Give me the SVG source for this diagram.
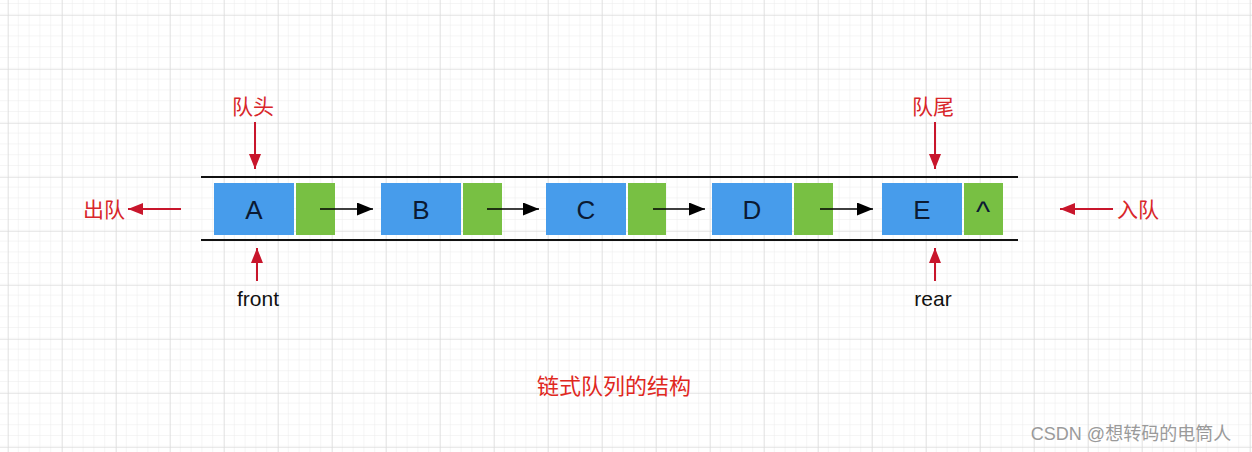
<svg xmlns="http://www.w3.org/2000/svg" width="1252" height="452" viewBox="0 0 1252 452">
<style>
.blue{fill:#479ceb}
.green{fill:#78c043}
.letter{font-family:"Liberation Sans",Arial,sans-serif;font-size:26px;fill:#0b1a33;text-anchor:middle}
.red{font-family:"Liberation Sans","Noto Sans CJK SC",sans-serif;font-size:21px;fill:#d8262a}
.lbl{font-family:"Liberation Sans",Arial,sans-serif;font-size:21px;fill:#111;text-anchor:middle}
.rail{stroke:#111;stroke-width:2}
.blk{stroke:#000;stroke-width:1.6;fill:none}
.rd{stroke:#c8162c;stroke-width:2;fill:none}
</style>
<defs>
<pattern id="minor" width="10.8" height="10.8" patternUnits="userSpaceOnUse" x="8" y="4">
<path d="M10.8 0V10.8M0 10.8H10.8" stroke="#ebebeb" stroke-width="1" fill="none"/>
</pattern>
<pattern id="major" width="54" height="54" patternUnits="userSpaceOnUse" x="8" y="15">
<path d="M0 0V54M0 0H54" stroke="#d6d6d6" stroke-width="1" fill="none"/>
</pattern>
<marker id="ab" markerWidth="16" markerHeight="13" refX="16" refY="6.5" orient="auto" markerUnits="userSpaceOnUse" viewBox="0 0 16 13">
<path d="M0 0L16 6.5L0 13z" fill="#000"/>
</marker>
<marker id="ar" markerWidth="15" markerHeight="12" refX="15" refY="6" orient="auto" markerUnits="userSpaceOnUse" viewBox="0 0 15 12">
<path d="M0 0L15 6L0 12z" fill="#c8162c"/>
</marker>
</defs>
<rect width="1252" height="452" fill="#fff"/>
<rect width="1252" height="452" fill="url(#minor)"/>
<rect width="1252" height="452" fill="url(#major)"/>

<g id="rails">
<line class="rail" x1="201" y1="177" x2="1018" y2="177"/>
<line class="rail" x1="201" y1="240" x2="1018" y2="240"/>
</g>

<g id="nodeA"><rect class="blue" x="214" y="183" width="80" height="52"/><rect class="green" x="296" y="183" width="39" height="52"/><text class="letter" x="254" y="219">A</text></g>
<g id="nodeB"><rect class="blue" x="381" y="183" width="80" height="52"/><rect class="green" x="463" y="183" width="39" height="52"/><text class="letter" x="421" y="219">B</text></g>
<g id="nodeC"><rect class="blue" x="546" y="183" width="80" height="52"/><rect class="green" x="628" y="183" width="38" height="52"/><text class="letter" x="586" y="219">C</text></g>
<g id="nodeD"><rect class="blue" x="712" y="183" width="80" height="52"/><rect class="green" x="794" y="183" width="39" height="52"/><text class="letter" x="752" y="219">D</text></g>
<g id="nodeE"><rect class="blue" x="882" y="183" width="80" height="52"/><rect class="green" x="964" y="183" width="39" height="52"/><text class="letter" x="922" y="219">E</text><text class="letter" x="983" y="222" style="font-size:30px">^</text></g>

<g id="connectors">
<line class="blk" x1="320" y1="209" x2="373" y2="209" marker-end="url(#ab)"/>
<line class="blk" x1="487" y1="209" x2="539" y2="209" marker-end="url(#ab)"/>
<line class="blk" x1="653" y1="209" x2="705" y2="209" marker-end="url(#ab)"/>
<line class="blk" x1="820" y1="209" x2="873" y2="209" marker-end="url(#ab)"/>
<line class="rd" x1="255" y1="122" x2="255" y2="169" marker-end="url(#ar)"/>
<line class="rd" x1="257" y1="281" x2="257" y2="248" marker-end="url(#ar)"/>
<line class="rd" x1="935" y1="122" x2="935" y2="169" marker-end="url(#ar)"/>
<line class="rd" x1="935" y1="281" x2="935" y2="248" marker-end="url(#ar)"/>
<line class="rd" x1="181" y1="209" x2="128" y2="209" marker-end="url(#ar)"/>
<line class="rd" x1="1113" y1="209" x2="1060" y2="209" marker-end="url(#ar)"/>
</g>

<g id="labels">
<text class="red" x="253" y="114" text-anchor="middle">队头</text>
<text class="red" x="933" y="114" text-anchor="middle">队尾</text>
<text class="red" x="83" y="217">出队</text>
<text class="red" x="1117" y="217">入队</text>
<text class="lbl" x="258" y="306">front</text>
<text class="lbl" x="933" y="306">rear</text>
<text class="red" x="614" y="394" text-anchor="middle" style="font-size:22px;fill:#e0281e">链式队列的结构</text>
<text x="1131" y="440" text-anchor="middle" style="font-family:'Liberation Sans','Noto Sans CJK SC',sans-serif;font-size:18px;fill:#9a9a9a">CSDN @想转码的电筒人</text>
</g>
</svg>
